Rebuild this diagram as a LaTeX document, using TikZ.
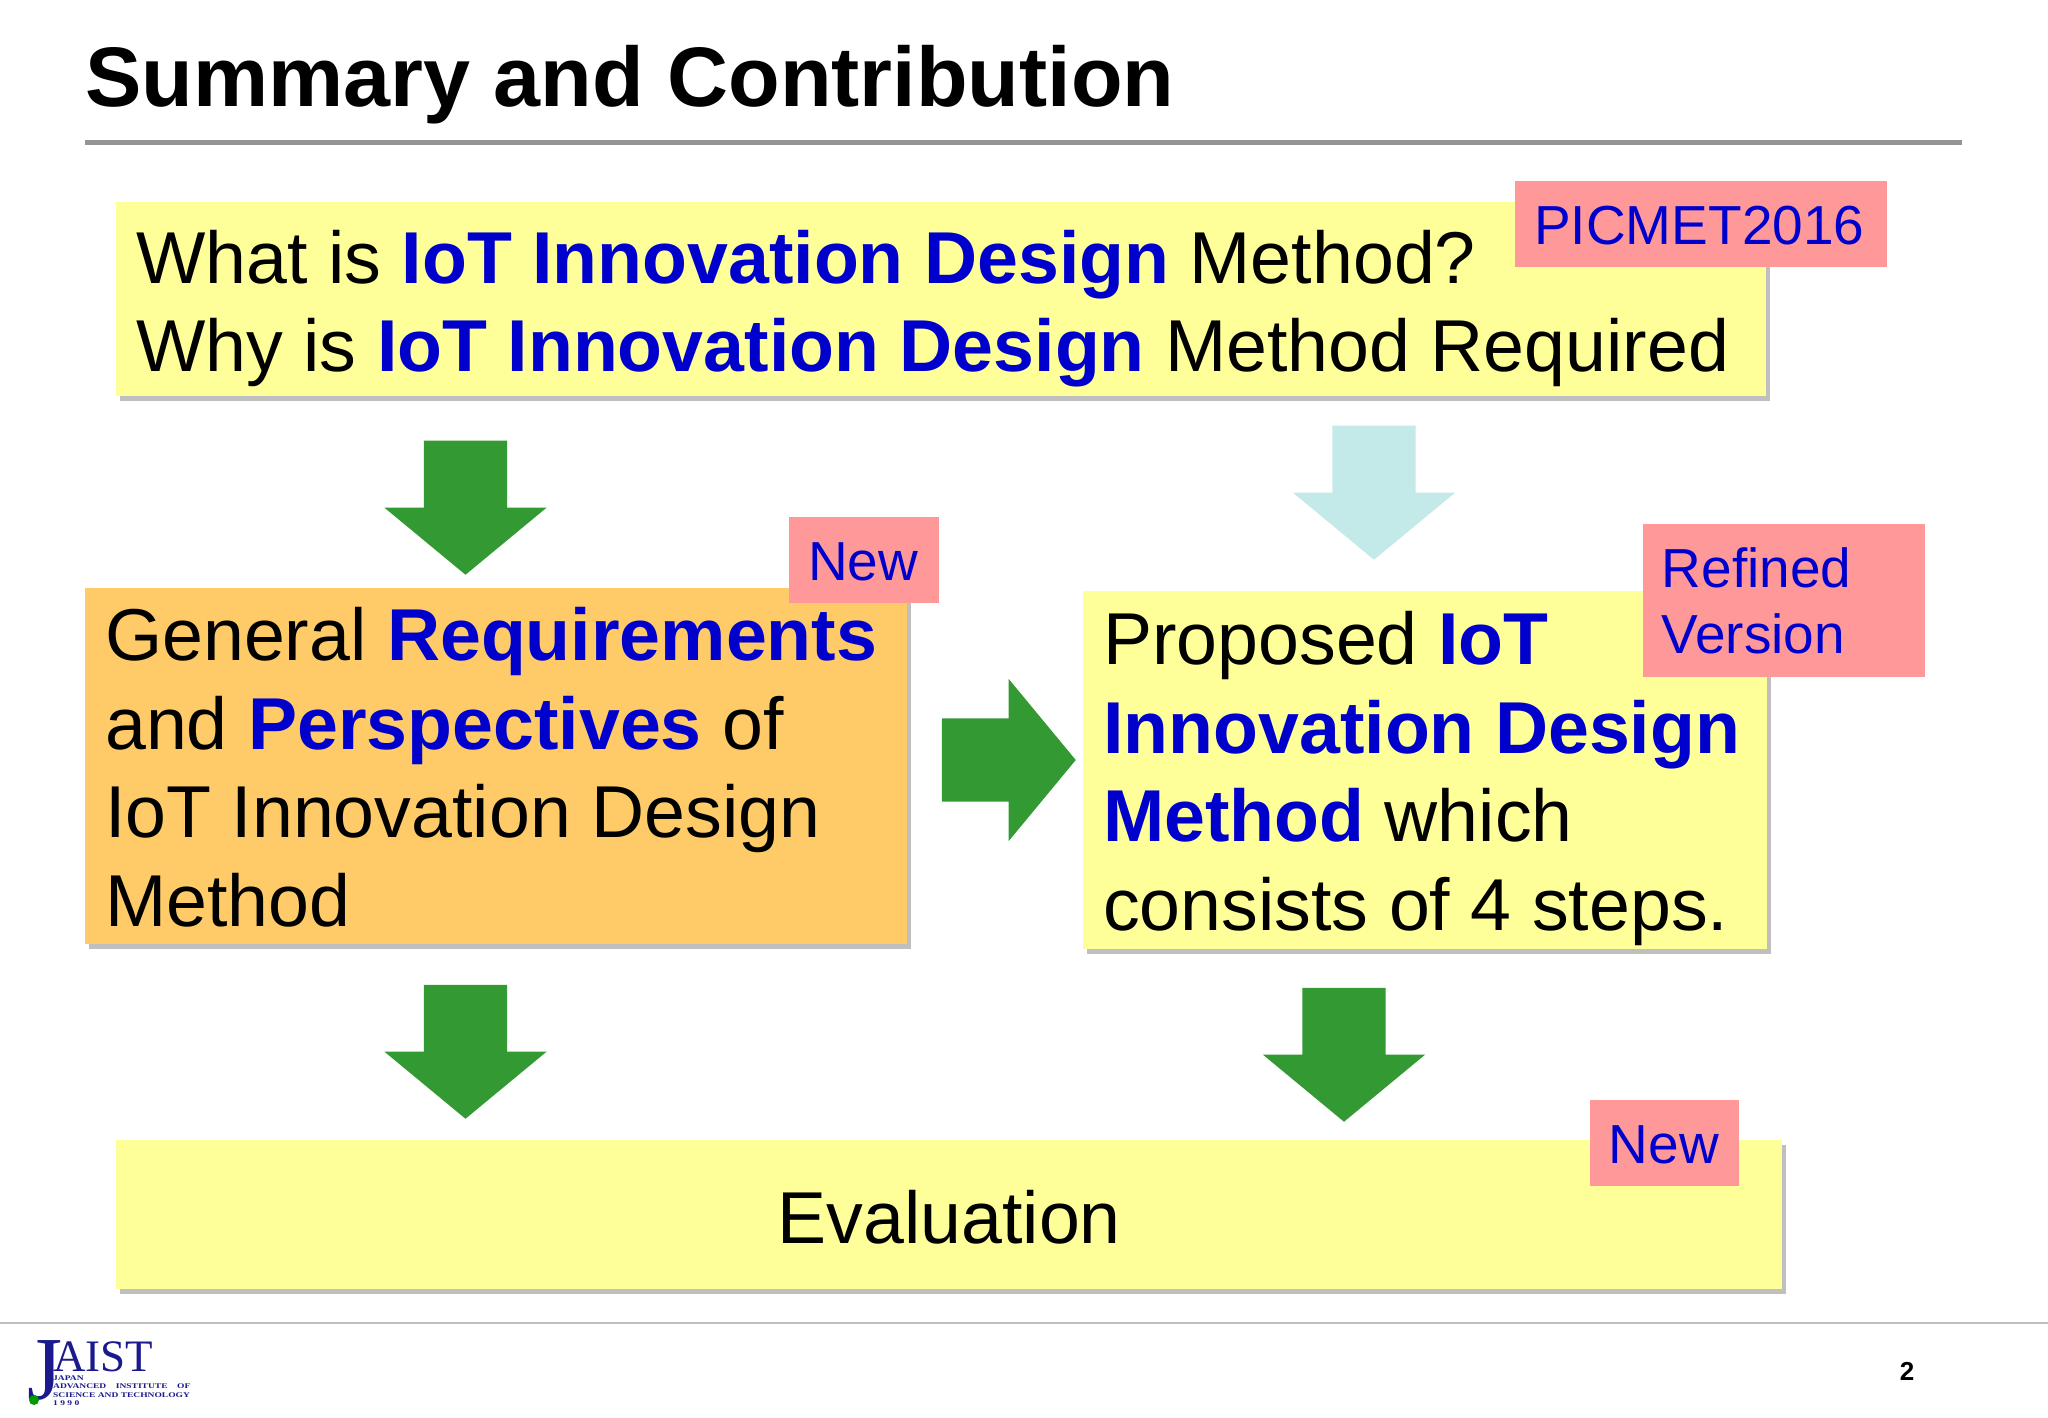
\documentclass[tikz,border=0pt]{standalone}
\usepackage{fontspec}
\setmainfont{Liberation Sans}
\newfontfamily\logofont{Liberation Serif}
\newfontfamily\logosmall[FakeStretch=1.32]{Liberation Serif}
\usetikzlibrary{shapes.arrows,shadows}
\definecolor{kwblue}{HTML}{0000CC}
\definecolor{noteyellow}{HTML}{FFFF99}
\definecolor{noteorange}{HTML}{FFCB69}
\definecolor{tagpink}{HTML}{FF9999}
\definecolor{arrowgreen}{HTML}{339933}
\definecolor{arrowpale}{HTML}{C3EAE8}
\definecolor{logoblue}{HTML}{1A1A8C}
\newcommand{\kw}[1]{\textbf{\textcolor{kwblue}{#1}}}
\tikzset{
  textdrop/.style={execute at begin node={\rule{0pt}{#1}}},
  notebox/.style={rectangle,anchor=north west,fill=noteyellow,inner xsep=20pt,inner ysep=0pt,align=flush left,
    font=\fontsize{73.5}{88.5}\selectfont,
    drop shadow={shadow xshift=4pt,shadow yshift=-5pt,fill=black!50,opacity=.5}},
  tagbox/.style={rectangle,anchor=north west,fill=tagpink,text=kwblue,inner xsep=19pt,inner ysep=0pt,align=flush left,
    font=\fontsize{55}{66}\selectfont},
  blockarrow/.style={single arrow,anchor=tip,fill=arrowgreen,draw=none,inner xsep=0pt,inner ysep=41.5pt,
    minimum height=134pt,minimum width=162pt,single arrow head extend=39.5pt,single arrow tip angle=100.8},
  logotext/.style={anchor=base west,inner sep=0pt,text=logoblue,font=\logosmall\bfseries\fontsize{7.2}{8}\selectfont},
}
\begin{document}
\begin{tikzpicture}[x=1pt,y=-1pt]
  \useasboundingbox (0,0) rectangle (2048,1418);
  \fill[white] (0,0) rectangle (2048,1418);
  % heading
  \node[anchor=base west,inner sep=0pt,font=\fontsize{84.5}{90}\selectfont\bfseries] (title) at (85,107) {Summary and Contribution};
  \draw[line width=5pt,black!42] (85,143) -- (1962,143);
  % boxes
  \node[notebox,minimum width=1650,minimum height=194,text width=1610,textdrop=72pt] (boxWhat) at (116,202)
    {What is \kw{IoT Innovation Design} Method?\\Why is \kw{IoT Innovation Design} Method Required};
  \node[notebox,fill=noteorange,minimum width=822,minimum height=356,text width=782,textdrop=55pt] (boxReq) at (85,588)
    {General \kw{Requirements}\\and \kw{Perspectives} of\\IoT Innovation Design\\Method};
  \node[notebox,minimum width=684,minimum height=358,text width=644,textdrop=70pt] (boxProp) at (1083,591)
    {Proposed \kw{IoT}\\\kw{Innovation Design}\\\kw{Method} which\\consists of 4 steps.};
  \node[notebox,minimum width=1666,minimum height=149,text width=1626,align=center,textdrop=59pt] (boxEval) at (116,1140) {Evaluation};
  % tags
  \node[tagbox,minimum width=372,minimum height=86,text width=334,textdrop=40.4pt] (tagPicmet) at (1515,181) {PICMET2016};
  \node[tagbox,minimum width=150,minimum height=86,text width=112,textdrop=40.4pt] (tagNewA) at (789,517) {New};
  \node[tagbox,minimum width=282,minimum height=153,text width=244,textdrop=40pt] (tagRefined) at (1642.5,524) {Refined\\Version};
  \node[tagbox,minimum width=149,minimum height=86,text width=111,textdrop=40.4pt] (tagNewB) at (1589.5,1100) {New};
  % arrows
  \node[blockarrow,rotate=-90] (arrowWhatReq) at (465.5,575) {};
  \node[blockarrow,rotate=-90,fill=arrowpale] (arrowWhatProp) at (1374,560) {};
  \node[blockarrow] (arrowReqProp) at (1076,760) {};
  \node[blockarrow,rotate=-90] (arrowReqEval) at (465.5,1119) {};
  \node[blockarrow,rotate=-90] (arrowPropEval) at (1344,1122) {};
  % footer
  \draw[line width=2.5pt,black!25] (0,1323) -- (2048,1323);
  \node[anchor=center,inner sep=0pt,font=\fontsize{26}{30}\selectfont\bfseries] (pageNo) at (1907,1371) {2};
  \node[anchor=base west,inner sep=0pt,text=logoblue,font=\logofont\fontsize{90}{90}\selectfont] (logoJ) at (27,1399.5) {J};
  \node[anchor=base west,inner sep=0pt,text=logoblue,font=\logofont\fontsize{45}{45}\selectfont] (logoAist) at (53,1371) {AIST};
  \fill[green!60!black] (34,1400) circle (5);
  \node[logotext] (logoA) at (53,1380) {JAPAN};
  \node[logotext] (logoB) at (53,1388.5) {ADVANCED\ \ \ \ INSTITUTE\ \ \ \ OF};
  \node[logotext] (logoC) at (53,1397) {SCIENCE AND TECHNOLOGY};
  \node[logotext] (logoD) at (53,1405.5) {1\ 9\ 9\ 0};
\end{tikzpicture}
\end{document}
